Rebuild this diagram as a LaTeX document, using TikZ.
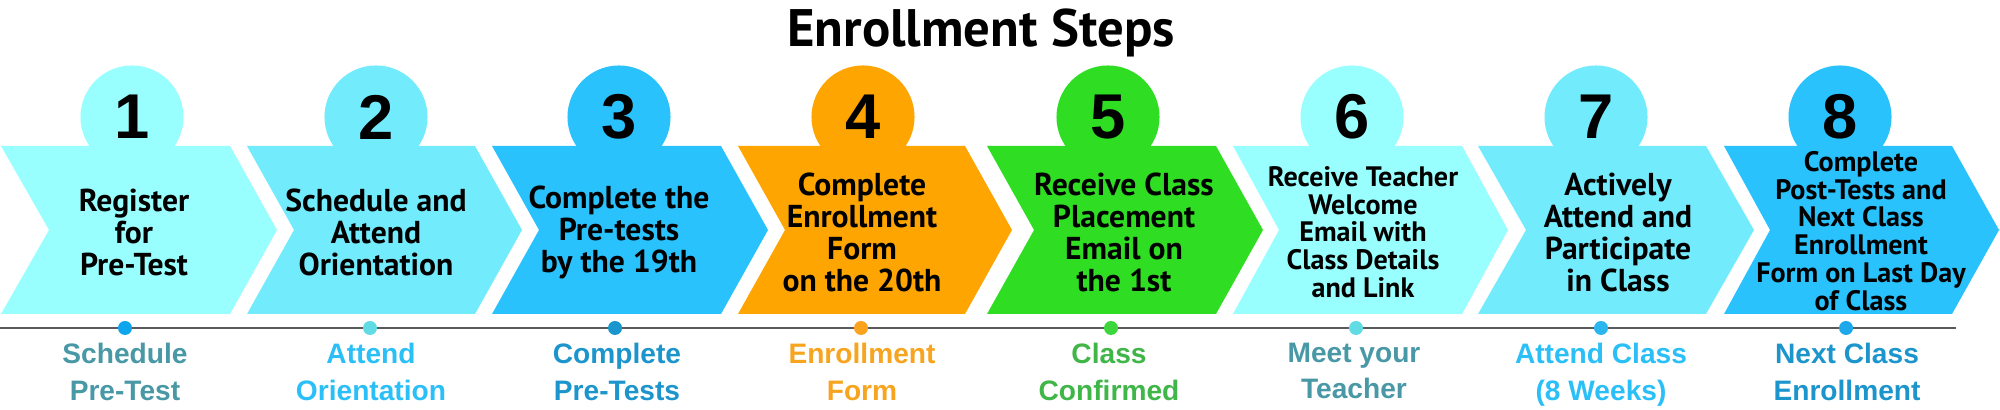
\documentclass[tikz,border=0pt]{standalone}
\usepackage{fontspec}
\setmainfont{PT Sans}
\newfontfamily\digitfont{Liberation Sans}
\usetikzlibrary{positioning}
\definecolor{cyanlt}{HTML}{99FFFE}
\definecolor{cyanmd}{HTML}{72EBFC}
\definecolor{cyandk}{HTML}{29C2FD}
\definecolor{amber}{HTML}{FFA502}
\definecolor{leaf}{HTML}{2FDE22}
\definecolor{dotA}{HTML}{0EA5EC}
\definecolor{dotB}{HTML}{62DCE4}
\definecolor{dotC}{HTML}{1A96CF}
\definecolor{dotD}{HTML}{F9A31F}
\definecolor{dotE}{HTML}{3DD63D}
\definecolor{dotG}{HTML}{2BB6F0}
\definecolor{dotH}{HTML}{1CA8EA}
\definecolor{labteal}{HTML}{4898A6}
\definecolor{labsky}{HTML}{2BBFF7}
\definecolor{labblue}{HTML}{1C95CC}
\definecolor{labamber}{HTML}{F7A41F}
\definecolor{lableaf}{HTML}{40B649}
\definecolor{rulegrey}{HTML}{5A5A5A}

\begin{document}
\begin{tikzpicture}[x=0.01cm,y=-0.01cm,
  num/.style={circle,inner sep=0pt,minimum size=1.03cm,font=\digitfont\bfseries\fontsize{18}{18}\selectfont},
  txt/.style={align=center,inner sep=0pt,font=\bfseries\fontsize{9}{9.1}\selectfont},
  txtsm/.style={txt,font=\bfseries\fontsize{8}{7.9}\selectfont},
  dot/.style={circle,inner sep=0pt,minimum size=1.4mm},
  lbl/.style={align=center,anchor=north,inner sep=0pt,font=\digitfont\bfseries\fontsize{8}{10.5}\selectfont}]
\useasboundingbox (0,0) rectangle (2000,410);

\node[font=\bfseries\fontsize{15}{15}\selectfont,anchor=base](title) at (981,47){Enrollment Steps};

% step numbers
\node[num,fill=cyanlt](n1) at (132,117){1}; \node[num,fill=cyanmd](n2) at (376,117){2};
\node[num,fill=cyandk](n3) at (619,117){3}; \node[num,fill=amber](n4) at (863,117){4};
\node[num,fill=leaf](n5) at (1108,117){5}; \node[num,fill=cyanlt](n6) at (1352,117){6};
\node[num,fill=cyanmd](n7) at (1596,117){7}; \node[num,fill=cyandk](n8) at (1840,117){8};

% chevrons
\fill[cyanlt] (1,146)--(230,146)--(277,230)--(230,314)--(1,314)--(49,230)--cycle;
\fill[cyanmd] (247,146)--(475,146)--(522,230)--(475,314)--(247,314)--(294,230)--cycle;
\fill[cyandk] (492,146)--(721,146)--(768,230)--(721,314)--(492,314)--(539,230)--cycle;
\fill[amber] (738,146)--(965,146)--(1012,230)--(965,314)--(738,314)--(785,230)--cycle;
\fill[leaf] (987,146)--(1216,146)--(1263,230)--(1216,314)--(987,314)--(1034,230)--cycle;
\fill[cyanlt] (1233,146)--(1462,146)--(1508,230)--(1462,314)--(1233,314)--(1279,230)--cycle;
\fill[cyanmd] (1478,146)--(1706,146)--(1754,230)--(1706,314)--(1478,314)--(1526,230)--cycle;
\fill[cyandk] (1724,146)--(1952,146)--(1999,230)--(1952,314)--(1724,314)--(1770,230)--cycle;

\node[txt](t1) at (134,232){Register\\for\\Pre-Test};
\node[txt](t2) at (376,232){Schedule and\\Attend\\Orientation};
\node[txt](t3) at (619,232){Complete the\\Pre-tests\\by the 19th};
\node[txt](t4) at (862,232){Complete\\Enrollment\\Form\\on the 20th};
\node[txt](t5) at (1124,232){Receive Class\\Placement\\Email on\\the 1st};
\node[txtsm](t6) at (1363,232){Receive Teacher\\Welcome\\Email with\\Class Details\\and Link};
\node[txt](t7) at (1618,232){Actively\\Attend and\\Participate\\in Class};
\node[txtsm](t8) at (1861,231){Complete\\Post-Tests and\\Next Class\\Enrollment\\Form on Last Day\\of Class};

% timeline
\coordinate (lineL) at (0,328); \coordinate (lineR) at (1956,328);
\draw[rulegrey,line width=0.4pt](lineL)--(lineR);
\node[dot,fill=dotA](d1) at (125,328){}; \node[dot,fill=dotB](d2) at (370,328){};
\node[dot,fill=dotC](d3) at (615,328){}; \node[dot,fill=dotD](d4) at (861,328){};
\node[dot,fill=dotE](d5) at (1111,328){}; \node[dot,fill=dotB](d6) at (1356,328){};
\node[dot,fill=dotG](d7) at (1601,328){}; \node[dot,fill=dotH](d8) at (1846,328){};

\node[lbl,text=labteal](l1) at (125,342){Schedule\\Pre-Test};
\node[lbl,text=labsky](l2) at (371,342){Attend\\Orientation};
\node[lbl,text=labblue](l3) at (617,342){Complete\\Pre-Tests};
\node[lbl,text=labamber](l4) at (862,342){Enrollment\\Form};
\node[lbl,text=lableaf](l5) at (1109,342){Class\\Confirmed};
\node[lbl,text=labteal](l6) at (1354,342){Meet your\\Teacher};
\node[lbl,text=labsky](l7) at (1601,342){Attend Class\\(8 Weeks)};
\node[lbl,text=labblue](l8) at (1847,342){Next Class\\Enrollment};
\end{tikzpicture}
\end{document}
